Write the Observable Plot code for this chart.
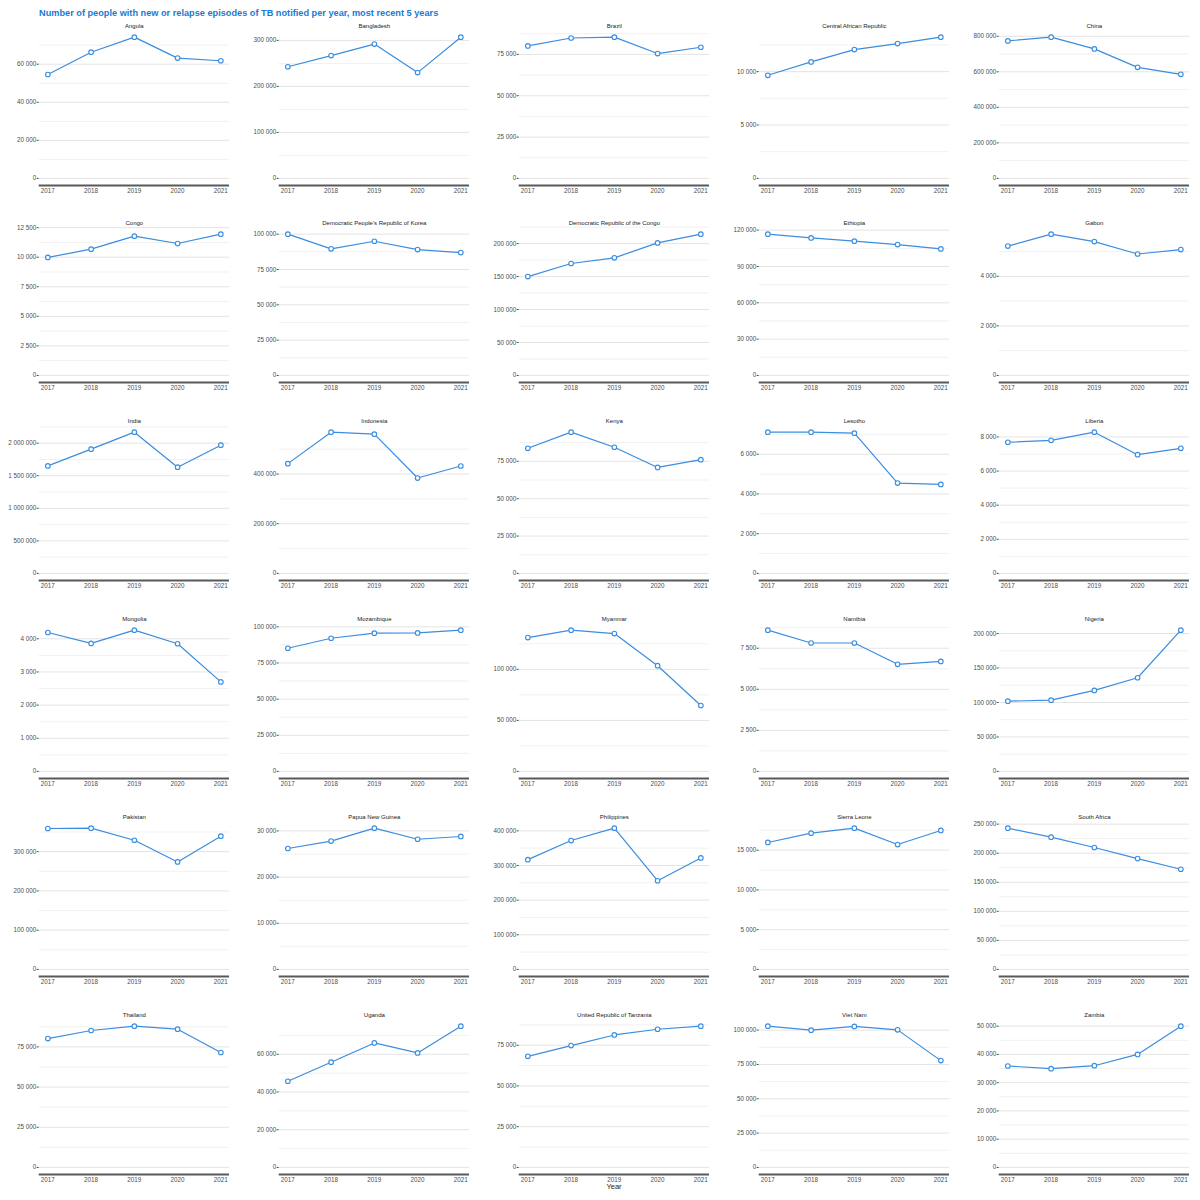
<!DOCTYPE html>
<html>
<head>
<meta charset="utf-8">
<script src="https://cdn.jsdelivr.net/npm/d3@7"></script>
<script src="https://cdn.jsdelivr.net/npm/@observablehq/plot@0.6"></script>
<style>
  html, body { margin: 0; padding: 0; background: #fff; }
  #wrap { position: relative; width: 1200px; height: 1200px; overflow: hidden; font-family: "Liberation Sans", Arial, sans-serif; }
  #title { position: absolute; left: 39px; top: 6px; font-size: 9.2px; font-weight: bold; color: #1b7ad3; white-space: nowrap; line-height: 14px; }
  .panel { position: absolute; width: 240px; height: 180px; }
  .panel svg { overflow: visible; }
  #xlab { position: absolute; top: 1181.5px; left: 0; width: 1228px; text-align: center; font-size: 7.5px; line-height: 9px; color: #1a1a1a; }
</style>
</head>
<body>
<div id="wrap">
  <div id="title">Number of people with new or relapse episodes of TB notified per year, most recent 5 years</div>
  <div id="xlab">Year</div>
</div>
<script>
const years = [2017, 2018, 2019, 2020, 2021];

const countries = [
  "Angola", "Bangladesh", "Brazil", "Central African Republic", "China",
  "Congo", "Democratic People's Republic of Korea", "Democratic Republic of the Congo", "Ethiopia", "Gabon",
  "India", "Indonesia", "Kenya", "Lesotho", "Liberia",
  "Mongolia", "Mozambique", "Myanmar", "Namibia", "Nigeria",
  "Pakistan", "Papua New Guinea", "Philippines", "Sierra Leone", "South Africa",
  "Thailand", "Uganda", "United Republic of Tanzania", "Viet Nam", "Zambia"
];

// notified cases per country, 2017..2021
const notified = [
  [54600, 66300, 74200, 63200, 61800],
  [242700, 267000, 292000, 230000, 307000],
  [80100, 84900, 85400, 75500, 79300],
  [9660, 10910, 12070, 12630, 13230],
  [774000, 795000, 729000, 625000, 586000],
  [9980, 10680, 11780, 11160, 11950],
  [100000, 89600, 95000, 89100, 87000],
  [150000, 169800, 178400, 201000, 214300],
  [116700, 113600, 110900, 108100, 104500],
  [5220, 5700, 5400, 4900, 5080],
  [1651000, 1908000, 2169000, 1631000, 1969000],
  [441800, 568400, 560300, 383800, 432300],
  [83700, 94500, 84400, 70900, 76100],
  [7110, 7110, 7060, 4550, 4480],
  [7690, 7800, 8280, 6960, 7330],
  [4190, 3860, 4260, 3850, 2700],
  [85200, 92100, 95600, 95800, 97700],
  [131100, 138400, 135100, 103600, 64600],
  [8600, 7820, 7820, 6520, 6700],
  [101900, 103400, 117500, 135900, 204900],
  [358900, 359800, 329000, 273700, 339300],
  [26200, 27800, 30600, 28200, 28800],
  [316900, 372000, 407700, 256000, 321700],
  [15970, 17140, 17770, 15710, 17480],
  [243100, 227600, 209800, 190800, 172400],
  [80200, 85200, 87900, 86000, 71500],
  [45700, 55800, 66000, 60700, 74900],
  [68200, 74800, 81300, 84800, 86700],
  [102900, 100000, 102700, 100200, 77800],
  [35900, 34950, 36000, 40000, 50000]
];

// y-axis label step per country
const tickSteps = [
  20000, 100000, 25000, 5000, 200000,
  2500, 25000, 50000, 30000, 2000,
  500000, 200000, 25000, 2000, 2000,
  1000, 25000, 50000, 2500, 50000,
  100000, 10000, 100000, 5000, 50000,
  25000, 20000, 25000, 25000, 10000
];

const lineColor = "#3a8ddf";
const fmt = d3.formatLocale({decimal: ".", thousands: " ", grouping: [3], currency: ["", ""]}).format(",");

const wrap = document.getElementById("wrap");
const ncol = 5, colW = 240, rowH = 197.8, top0 = 19.5;

countries.forEach((country, i) => {
  const vals = notified[i];
  const data = years.map((yr, j) => ({year: yr, value: vals[j]}));
  const maxV = d3.max(vals);
  const step = tickSteps[i];
  const lo = -0.05 * maxV, hi = 1.05 * maxV;
  const major = d3.range(0, hi + 1e-9, step);
  const minor = d3.range(step / 2, hi, step);

  const chart = Plot.plot({
    width: 240,
    height: 180,
    marginLeft: 38.7,
    marginRight: 11,
    marginTop: 9.6,
    marginBottom: 15,
    style: {fontFamily: "Liberation Sans, Arial, sans-serif", fontSize: "6.3px", color: "#4d4d4d", background: "transparent", overflow: "visible"},
    x: {domain: [years[0] - 0.2, years[years.length - 1] + 0.2]},
    y: {domain: [lo, hi]},
    marks: [
      Plot.gridY(minor, {stroke: "#f1f1f1", strokeOpacity: 1, strokeWidth: 1}),
      Plot.gridY(major, {stroke: "#e4e4e4", strokeOpacity: 1, strokeWidth: 1}),
      Plot.ruleY([lo], {stroke: "#595959", strokeWidth: 2}),
      Plot.axisY(major, {tickSize: 2, tickPadding: 1, tickFormat: fmt, label: null, stroke: "#4d4d4d"}),
      Plot.axisX(years, {tickSize: 0, tickPadding: 3, tickFormat: "d", label: null}),
      Plot.line(data, {x: "year", y: "value", stroke: lineColor, strokeWidth: 1.2}),
      Plot.dot(data, {x: "year", y: "value", r: 2.3, fill: "white", stroke: lineColor, strokeWidth: 1.1}),
      Plot.text([country], {frameAnchor: "top", dy: -4, lineAnchor: "middle", fontSize: 6, fill: "#1a1a1a"})
    ]
  });

  const div = document.createElement("div");
  div.className = "panel";
  div.style.left = (i % ncol) * colW + "px";
  div.style.top = top0 + Math.floor(i / ncol) * rowH + "px";
  div.appendChild(chart);
  wrap.appendChild(div);
});
</script>
</body>
</html>
